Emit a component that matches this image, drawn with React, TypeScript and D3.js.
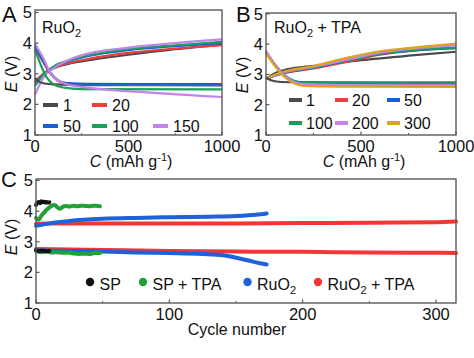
import React from 'react';
import * as d3 from 'd3';

type Pt = [number, number];

// ---------- Panel A: RuO2 ----------
const aLabels = ['1', '20', '50', '100', '150'];
const aColors = ['#4a4a4a', '#f03c3c', '#1a5fd6', '#16a05a', '#c283ee'];
const aCharge: Pt[][] = [
  [[0, 2.72], [50, 3.0], [100, 3.18], [200, 3.35], [300, 3.45], [500, 3.62], [750, 3.8], [1000, 3.95]],
  [[0, 2.75], [50, 3.03], [100, 3.2], [200, 3.38], [300, 3.5], [500, 3.68], [750, 3.82], [1000, 3.93]],
  [[0, 2.68], [50, 3.0], [100, 3.22], [200, 3.45], [300, 3.6], [500, 3.77], [750, 3.9], [1000, 4.0]],
  [[0, 2.6], [50, 3.0], [100, 3.24], [200, 3.47], [300, 3.62], [500, 3.8], [750, 3.93], [1000, 4.04]],
  [[0, 2.32], [50, 2.92], [100, 3.18], [200, 3.5], [300, 3.68], [500, 3.85], [750, 4.0], [1000, 4.12]],
];
const aDischarge: Pt[][] = [
  [[0, 2.86], [20, 2.75], [50, 2.68], [100, 2.65], [300, 2.63], [1000, 2.62]],
  [[0, 3.85], [40, 3.42], [80, 3.02], [120, 2.78], [170, 2.68], [300, 2.65], [1000, 2.64]],
  [[0, 3.9], [40, 3.46], [80, 3.06], [120, 2.8], [170, 2.69], [300, 2.67], [1000, 2.66]],
  [[0, 3.78], [30, 3.3], [60, 2.9], [100, 2.65], [150, 2.55], [250, 2.5], [1000, 2.49]],
  [[0, 3.98], [45, 3.5], [80, 3.05], [150, 2.7], [260, 2.56], [580, 2.4], [1000, 2.24]],
];

// ---------- Panel B: RuO2 + TPA ----------
const bLabels = ['1', '20', '50', '100', '200', '300'];
const bColors = ['#4a4a4a', '#f03c3c', '#1a5fd6', '#16a05a', '#c283ee', '#dea21c'];
const bCharge: Pt[][] = [
  [[0, 2.85], [50, 3.05], [100, 3.15], [200, 3.25], [300, 3.32], [500, 3.47], [750, 3.62], [1000, 3.75]],
  [[0, 2.85], [50, 2.97], [100, 3.05], [250, 3.2], [450, 3.45], [600, 3.65], [800, 3.8], [1000, 3.88]],
  [[0, 2.85], [50, 2.97], [100, 3.06], [250, 3.22], [450, 3.5], [600, 3.68], [800, 3.8], [1000, 3.87]],
  [[0, 2.85], [50, 2.98], [100, 3.07], [250, 3.23], [450, 3.5], [600, 3.68], [800, 3.82], [1000, 3.88]],
  [[0, 2.85], [50, 2.98], [100, 3.08], [250, 3.25], [450, 3.52], [600, 3.72], [800, 3.87], [1000, 3.96]],
  [[0, 2.87], [50, 3.0], [100, 3.1], [250, 3.28], [450, 3.58], [600, 3.76], [800, 3.9], [1000, 4.02]],
];
const bDischarge: Pt[][] = [
  [[0, 2.9], [30, 2.8], [80, 2.75], [200, 2.74], [1000, 2.73]],
  [[0, 3.75], [50, 3.3], [100, 2.95], [150, 2.76], [200, 2.7], [400, 2.68], [1000, 2.66]],
  [[0, 3.75], [50, 3.3], [100, 2.96], [150, 2.78], [200, 2.73], [400, 2.72], [1000, 2.72]],
  [[0, 3.75], [50, 3.3], [100, 2.95], [150, 2.77], [200, 2.72], [400, 2.71], [1000, 2.71]],
  [[0, 3.78], [50, 3.3], [100, 2.95], [150, 2.75], [200, 2.68], [400, 2.65], [1000, 2.64]],
  [[0, 3.7], [50, 3.25], [100, 2.9], [150, 2.7], [200, 2.62], [400, 2.6], [1000, 2.59]],
];

// ---------- Panel C: cycling ----------
const cLabels = ['SP', 'SP + TPA', 'RuO2', 'RuO2 + TPA'];
const cColors = ['#111111', '#22a236', '#1c62d8', '#f23636'];
const cUpper: Pt[][] = [
  [[0, 4.2], [1, 4.27], [2, 4.3], [3, 4.26], [4, 4.32], [5, 4.29], [6, 4.31], [7, 4.28], [8, 4.3], [9, 4.28], [10, 4.29]],
  [[0, 3.78], [2, 3.72], [4, 3.85], [6, 3.95], [8, 4.05], [10, 4.12], [12, 4.18], [14, 4.2], [16, 4.12], [18, 4.08], [20, 4.14], [22, 4.17], [25, 4.15], [28, 4.18], [31, 4.16], [34, 4.18], [37, 4.17], [40, 4.16], [43, 4.18], [46, 4.17], [48, 4.16]],
  [[0, 3.52], [10, 3.6], [25, 3.68], [50, 3.75], [75, 3.78], [100, 3.8], [130, 3.82], [150, 3.84], [165, 3.88], [173, 3.92]],
  [[0, 3.59], [50, 3.6], [100, 3.6], [150, 3.6], [200, 3.61], [250, 3.62], [300, 3.64], [315, 3.66]],
];
const cLower: Pt[][] = [
  [[0, 2.72], [2, 2.69], [4, 2.71], [6, 2.7], [8, 2.69], [10, 2.7]],
  [[0, 2.7], [4, 2.66], [8, 2.68], [12, 2.65], [16, 2.66], [20, 2.64], [24, 2.65], [28, 2.62], [32, 2.6], [36, 2.61], [40, 2.6], [44, 2.63], [48, 2.63]],
  [[0, 2.72], [25, 2.7], [50, 2.68], [75, 2.65], [100, 2.63], [125, 2.6], [140, 2.56], [150, 2.48], [160, 2.38], [168, 2.3], [173, 2.26]],
  [[0, 2.76], [50, 2.73], [100, 2.7], [150, 2.68], [200, 2.67], [250, 2.65], [300, 2.64], [315, 2.63]],
];

const yTicks = [1, 2, 3, 4, 5];
const xTicksAB = [0, 500, 1000];
const xTicksC = [0, 100, 200, 300];

const FONT = 'Liberation Sans, Arial, Helvetica, sans-serif';
const FRAME = '#5a5a5a';

type Sc = d3.ScaleLinear<number, number>;

function Frame({ x, y, xt, xm, yt, fs = 16.5 }: { x: Sc; y: Sc; xt: number[]; xm: number[]; yt: number[]; fs?: number }) {
  const [x0, x1] = x.range();
  const [yb, ytop] = y.range();
  const top = ytop;
  return (
    <g>
      <rect x={x0} y={top} width={x1 - x0} height={yb - top} fill="none" stroke={FRAME} strokeWidth={1.4} />
      {xt.map((t) => (
        <g key={'x' + t}>
          <line x1={x(t)} x2={x(t)} y1={yb} y2={yb - 3.5} stroke={FRAME} strokeWidth={1.2} />
          <text x={x(t)} y={yb + 16.5} textAnchor="middle" fontSize={fs} fill="#111">{t}</text>
        </g>
      ))}
      {xm.map((t) => (
        <line key={'m' + t} x1={x(t)} x2={x(t)} y1={yb} y2={yb - 2} stroke={FRAME} strokeWidth={1} />
      ))}
      {yt.map((t) => (
        <g key={'y' + t}>
          <line x1={x0} x2={x0 + 3.5} y1={y(t)} y2={y(t)} stroke={FRAME} strokeWidth={1.2} />
          <text x={x0 - 3} y={y(t)} dy="0.36em" textAnchor="end" fontSize={fs} fill="#111">{t}</text>
        </g>
      ))}
    </g>
  );
}

function EVLabel({ cx, cy }: { cx: number; cy: number }) {
  return (
    <text transform={`translate(${cx},${cy}) rotate(-90)`} dy="0.36em" textAnchor="middle" fontSize={16} fill="#111">
      <tspan fontStyle="italic">E</tspan> (V)
    </text>
  );
}

function CLabel({ cx, by }: { cx: number; by: number }) {
  return (
    <text x={cx} y={by} textAnchor="middle" fontSize={16} fill="#111">
      <tspan fontStyle="italic">C</tspan> (mAh g<tspan dy={-6} fontSize={11}>-1</tspan><tspan dy={6}>)</tspan>
    </text>
  );
}

function Ru({ x, y, tpa }: { x: number; y: number; tpa?: boolean }) {
  return (
    <text x={x} y={y} fontSize={16} fill="#111">
      RuO<tspan dy={4} fontSize={11}>2</tspan>
      {tpa ? <tspan dy={-4}> + TPA</tspan> : null}
    </text>
  );
}

export default function App() {
  // panel A
  const xA = d3.scaleLinear().domain([0, 1000]).range([35, 222]);
  const yA = d3.scaleLinear().domain([1, 5.08]).range([135, 10]);
  // panel B
  const xB = d3.scaleLinear().domain([0, 1000]).range([266, 456]);
  const yB = d3.scaleLinear().domain([1, 5.03]).range([135, 13]);
  // panel C
  const xC = d3.scaleLinear().domain([0, 315]).range([36, 456]);
  const yC = d3.scaleLinear().domain([1, 5.05]).range([303, 179]);

  const lineGen = (x: Sc, y: Sc) =>
    d3.line<Pt>().x((d) => x(d[0])).y((d) => y(d[1])).curve(d3.curveMonotoneX);

  const lA = lineGen(xA, yA);
  const lB = lineGen(xB, yB);
  const lC = lineGen(xC, yC);

  const aLegendPos = [
    [43, 105], [92, 105], [43, 126], [92, 126], [153, 126],
  ];
  const bLegendPos = [
    [289, 100], [335, 100], [387, 100], [289, 123], [335, 123], [387, 123],
  ];
  const cLegendX = [90, 143, 247.5, 318];

  return (
    <svg
      width={474}
      height={358}
      style={{ position: 'absolute', left: 0, top: 0, background: '#fff' }}
      fontFamily={FONT}
    >
      <rect x={0} y={0} width={474} height={358} fill="#fff" />
      {/* ---------- Panel A ---------- */}
      <text x={2} y={22} fontSize={22} fill="#111">A</text>
      <g>
        {aCharge.map((d, i) => (
          <path key={'ac' + i} d={lA(d) || ''} fill="none" stroke={aColors[i]} strokeWidth={2.2} />
        ))}
        {aDischarge.map((d, i) => (
          <path key={'ad' + i} d={lA(d) || ''} fill="none" stroke={aColors[i]} strokeWidth={2.2} />
        ))}
      </g>
      <Frame x={xA} y={yA} xt={xTicksAB} xm={[250, 750]} yt={yTicks} />
      <Ru x={42} y={33} />
      {aLabels.map((lab, i) => (
        <g key={'al' + i}>
          <line x1={aLegendPos[i][0]} x2={aLegendPos[i][0] + 15} y1={aLegendPos[i][1]} y2={aLegendPos[i][1]} stroke={aColors[i]} strokeWidth={4} />
          <text x={aLegendPos[i][0] + 20} y={aLegendPos[i][1]} dy="0.36em" fontSize={16} fill="#111">{lab}</text>
        </g>
      ))}
      <EVLabel cx={11} cy={74} />
      <CLabel cx={131} by={167} />

      {/* ---------- Panel B ---------- */}
      <text x={236} y={22} fontSize={22} fill="#111">B</text>
      <g>
        {bCharge.map((d, i) => (
          <path key={'bc' + i} d={lB(d) || ''} fill="none" stroke={bColors[i]} strokeWidth={2.2} />
        ))}
        {bDischarge.map((d, i) => (
          <path key={'bd' + i} d={lB(d) || ''} fill="none" stroke={bColors[i]} strokeWidth={2.2} />
        ))}
      </g>
      <Frame x={xB} y={yB} xt={xTicksAB} xm={[250, 750]} yt={yTicks} />
      <Ru x={274} y={33} tpa />
      {bLabels.map((lab, i) => (
        <g key={'bl' + i}>
          <line x1={bLegendPos[i][0]} x2={bLegendPos[i][0] + 13} y1={bLegendPos[i][1]} y2={bLegendPos[i][1]} stroke={bColors[i]} strokeWidth={4} />
          <text x={bLegendPos[i][0] + 17} y={bLegendPos[i][1]} dy="0.36em" fontSize={16} fill="#111">{lab}</text>
        </g>
      ))}
      <EVLabel cx={242} cy={75} />
      <CLabel cx={364} by={167} />

      {/* ---------- Panel C ---------- */}
      <text x={1} y={187} fontSize={22} fill="#111">C</text>
      <g>
        {[3, 2, 1, 0].map((i) => (
          <g key={'cs' + i}>
            <path d={lC(cUpper[i]) || ''} fill="none" stroke={cColors[i]} strokeWidth={4} strokeLinecap="round" strokeLinejoin="round" />
            <path d={lC(cLower[i]) || ''} fill="none" stroke={cColors[i]} strokeWidth={4} strokeLinecap="round" strokeLinejoin="round" />
          </g>
        ))}
      </g>
      <Frame x={xC} y={yC} xt={xTicksC} xm={[50, 150, 250]} yt={yTicks} />
      {cLabels.map((lab, i) => (
        <g key={'cl' + i}>
          <circle cx={cLegendX[i]} cy={282} r={4.2} fill={cColors[i]} />
          {lab.startsWith('RuO2') ? (
            <Ru x={cLegendX[i] + 9.5} y={290} tpa={lab.includes('TPA')} />
          ) : (
            <text x={cLegendX[i] + 9.5} y={290} fontSize={16} fill="#111">{lab}</text>
          )}
        </g>
      ))}
      <EVLabel cx={11} cy={237} />
      <text x={237} y={335} textAnchor="middle" fontSize={16} fill="#111">Cycle number</text>
    </svg>
  );
}
